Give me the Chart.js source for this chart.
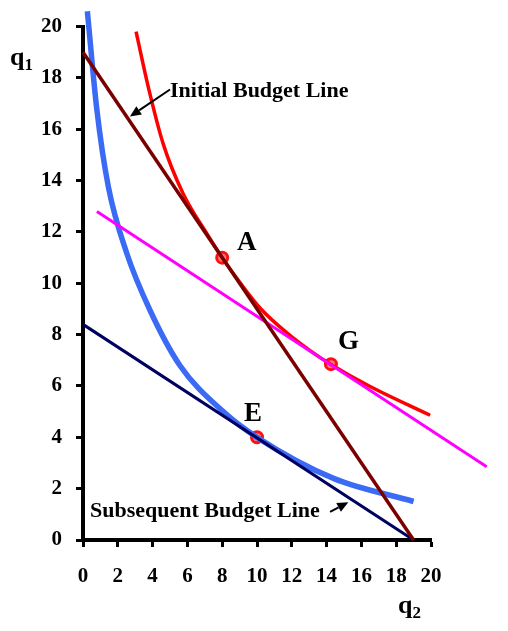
<!DOCTYPE html>
<html>
<head>
<meta charset="utf-8">
<script src="https://cdn.jsdelivr.net/npm/chart.js@4/dist/chart.umd.min.js"></script>
<style>
  html, body { margin: 0; padding: 0; background: #fff; }
  #wrap { width: 508px; height: 631px; }
</style>
</head>
<body>
<div id="wrap"><canvas id="chart"></canvas></div>
<script>
// DATA (q2 on x, q1 on y)
const initialBudget = [{ x: 0, y: 19 }, { x: 19, y: 0 }];
const subsequentBudget = [{ x: 0, y: 8.4 }, { x: 19, y: 0 }];
const compensatedBudget = [{ x: 0.8, y: 12.8 }, { x: 23.2, y: 2.85 }];

const redCurve = [
  { x: 3.05, y: 19.8 }, { x: 3.75, y: 17.65 }, { x: 4.6, y: 15.45 },
  { x: 5.75, y: 13.5 }, { x: 7.2, y: 11.85 }, { x: 8, y: 11 },
  { x: 9, y: 10.05 }, { x: 10.2, y: 9.02 }, { x: 11.7, y: 8.08 },
  { x: 13.05, y: 7.38 }, { x: 14.3, y: 6.82 }, { x: 16.5, y: 5.98 },
  { x: 19.95, y: 4.86 }
];

const blueCurve = [
  { x: 0.25, y: 20.6 }, { x: 0.79, y: 16.8 }, { x: 1.46, y: 13.75 },
  { x: 2.5, y: 11.2 }, { x: 3.85, y: 8.95 }, { x: 5.57, y: 6.8 },
  { x: 8.06, y: 5.0 }, { x: 10, y: 4 }, { x: 14.4, y: 2.4 },
  { x: 19, y: 1.5 }
];

const pointNames = ["A", "G", "E"];
const pointValues = [{ x: 8, y: 11 }, { x: 14.25, y: 6.85 }, { x: 10, y: 4 }];

const xTicks = [0, 2, 4, 6, 8, 10, 12, 14, 16, 18, 20];
const yTicks = [0, 2, 4, 6, 8, 10, 12, 14, 16, 18, 20];

const serif = '"Liberation Serif", "Times New Roman", serif';

// TEXT LABELS AND ARROWS (placed in data units)
const notes = [
  { text: "Initial Budget Line", x: 5.0, y: 17.25, size: 22 },
  { text: "Subsequent Budget Line", x: 0.4, y: 0.88, size: 22 },
  { text: pointNames[0], x: 8.85, y: 11.3, size: 27 },
  { text: pointNames[1], x: 14.65, y: 7.45, size: 27 },
  { text: pointNames[2], x: 9.25, y: 4.65, size: 27 }
];
const arrows = [
  { from: { x: 5.0, y: 17.55 }, to: { x: 2.7, y: 16.5 } },
  { from: { x: 14.2, y: 1.1 }, to: { x: 15.25, y: 1.47 } }
];
const axisNames = [
  { main: "q", sub: "1", x: -4.2, y: 18.5 },
  { main: "q", sub: "2", x: 18.1, y: -2.86 }
];

const annotate = {
  id: "annotate",
  afterDatasetsDraw(chart) {
    const { ctx, scales } = chart;
    const px = v => scales.x.getPixelForValue(v);
    const py = v => scales.y.getPixelForValue(v);
    ctx.save();
    ctx.fillStyle = "#000";
    ctx.strokeStyle = "#000";
    ctx.textBaseline = "alphabetic";
    ctx.textAlign = "left";

    notes.forEach(n => {
      ctx.font = `bold ${n.size}px ${serif}`;
      ctx.fillText(n.text, px(n.x), py(n.y));
    });

    arrows.forEach(a => {
      const x1 = px(a.from.x), y1 = py(a.from.y);
      const x2 = px(a.to.x), y2 = py(a.to.y);
      const ang = Math.atan2(y2 - y1, x2 - x1);
      const hl = 11;
      const bx = x2 - hl * Math.cos(ang), by = y2 - hl * Math.sin(ang);
      ctx.lineWidth = 2;
      ctx.beginPath();
      ctx.moveTo(x1, y1);
      ctx.lineTo(bx, by);
      ctx.stroke();
      ctx.beginPath();
      ctx.moveTo(x2, y2);
      ctx.lineTo(bx + 5 * Math.sin(ang), by - 5 * Math.cos(ang));
      ctx.lineTo(bx - 5 * Math.sin(ang), by + 5 * Math.cos(ang));
      ctx.closePath();
      ctx.fill();
    });

    axisNames.forEach(a => {
      const x = px(a.x), y = py(a.y);
      ctx.font = `bold 26px ${serif}`;
      ctx.fillText(a.main, x, y);
      const w = ctx.measureText(a.main).width;
      ctx.font = `bold 17px ${serif}`;
      ctx.fillText(a.sub, x + w, y + 5);
    });
    ctx.restore();
  }
};

const lineSet = (data, color, width) => ({
  data,
  borderColor: color,
  borderWidth: width,
  pointRadius: 0,
  showLine: true,
  clip: false,
  tension: 0
});

new Chart(document.getElementById("chart"), {
  type: "scatter",
  data: {
    datasets: [
      lineSet(initialBudget, "#7a0000", 3.5),
      lineSet(subsequentBudget, "#000060", 3),
      lineSet(compensatedBudget, "#ff00ff", 3),
      Object.assign(lineSet(redCurve, "#ff0000", 3.5), { cubicInterpolationMode: "monotone" }),
      Object.assign(lineSet(blueCurve, "#3b6af5", 5.5), { cubicInterpolationMode: "monotone" }),
      {
        data: pointValues,
        pointRadius: 5.5,
        pointBorderWidth: 3,
        pointBorderColor: "#ff1010",
        pointBackgroundColor: "rgba(255,100,100,0.85)",
        showLine: false,
        clip: false
      }
    ]
  },
  options: {
    responsive: true,
    maintainAspectRatio: false,
    animation: false,
    layout: { padding: { top: 16, right: 77, left: 0, bottom: 0 } },
    plugins: { legend: { display: false }, tooltip: { enabled: false } },
    scales: {
      x: {
        type: "linear",
        min: 0,
        max: 20,
        afterFit: s => { s.height = 91; },
        afterBuildTicks: s => { s.ticks = xTicks.map(v => ({ value: v })); },
        border: { display: true, color: "#000", width: 4 },
        grid: { drawOnChartArea: false, color: "#000", tickLength: 7, tickWidth: 3 },
        ticks: {
          padding: 17,
          color: "#000",
          maxRotation: 0,
          font: { family: serif, size: 21, weight: "bold" }
        }
      },
      y: {
        type: "linear",
        min: 0,
        max: 20,
        afterFit: s => { s.width = 83; },
        afterBuildTicks: s => { s.ticks = yTicks.map(v => ({ value: v })); },
        border: { display: true, color: "#000", width: 4 },
        grid: { drawOnChartArea: false, color: "#000", tickLength: 7, tickWidth: 3 },
        ticks: {
          padding: 14,
          color: "#000",
          font: { family: serif, size: 21, weight: "bold" }
        }
      }
    }
  },
  plugins: [annotate]
});
</script>
</body>
</html>
